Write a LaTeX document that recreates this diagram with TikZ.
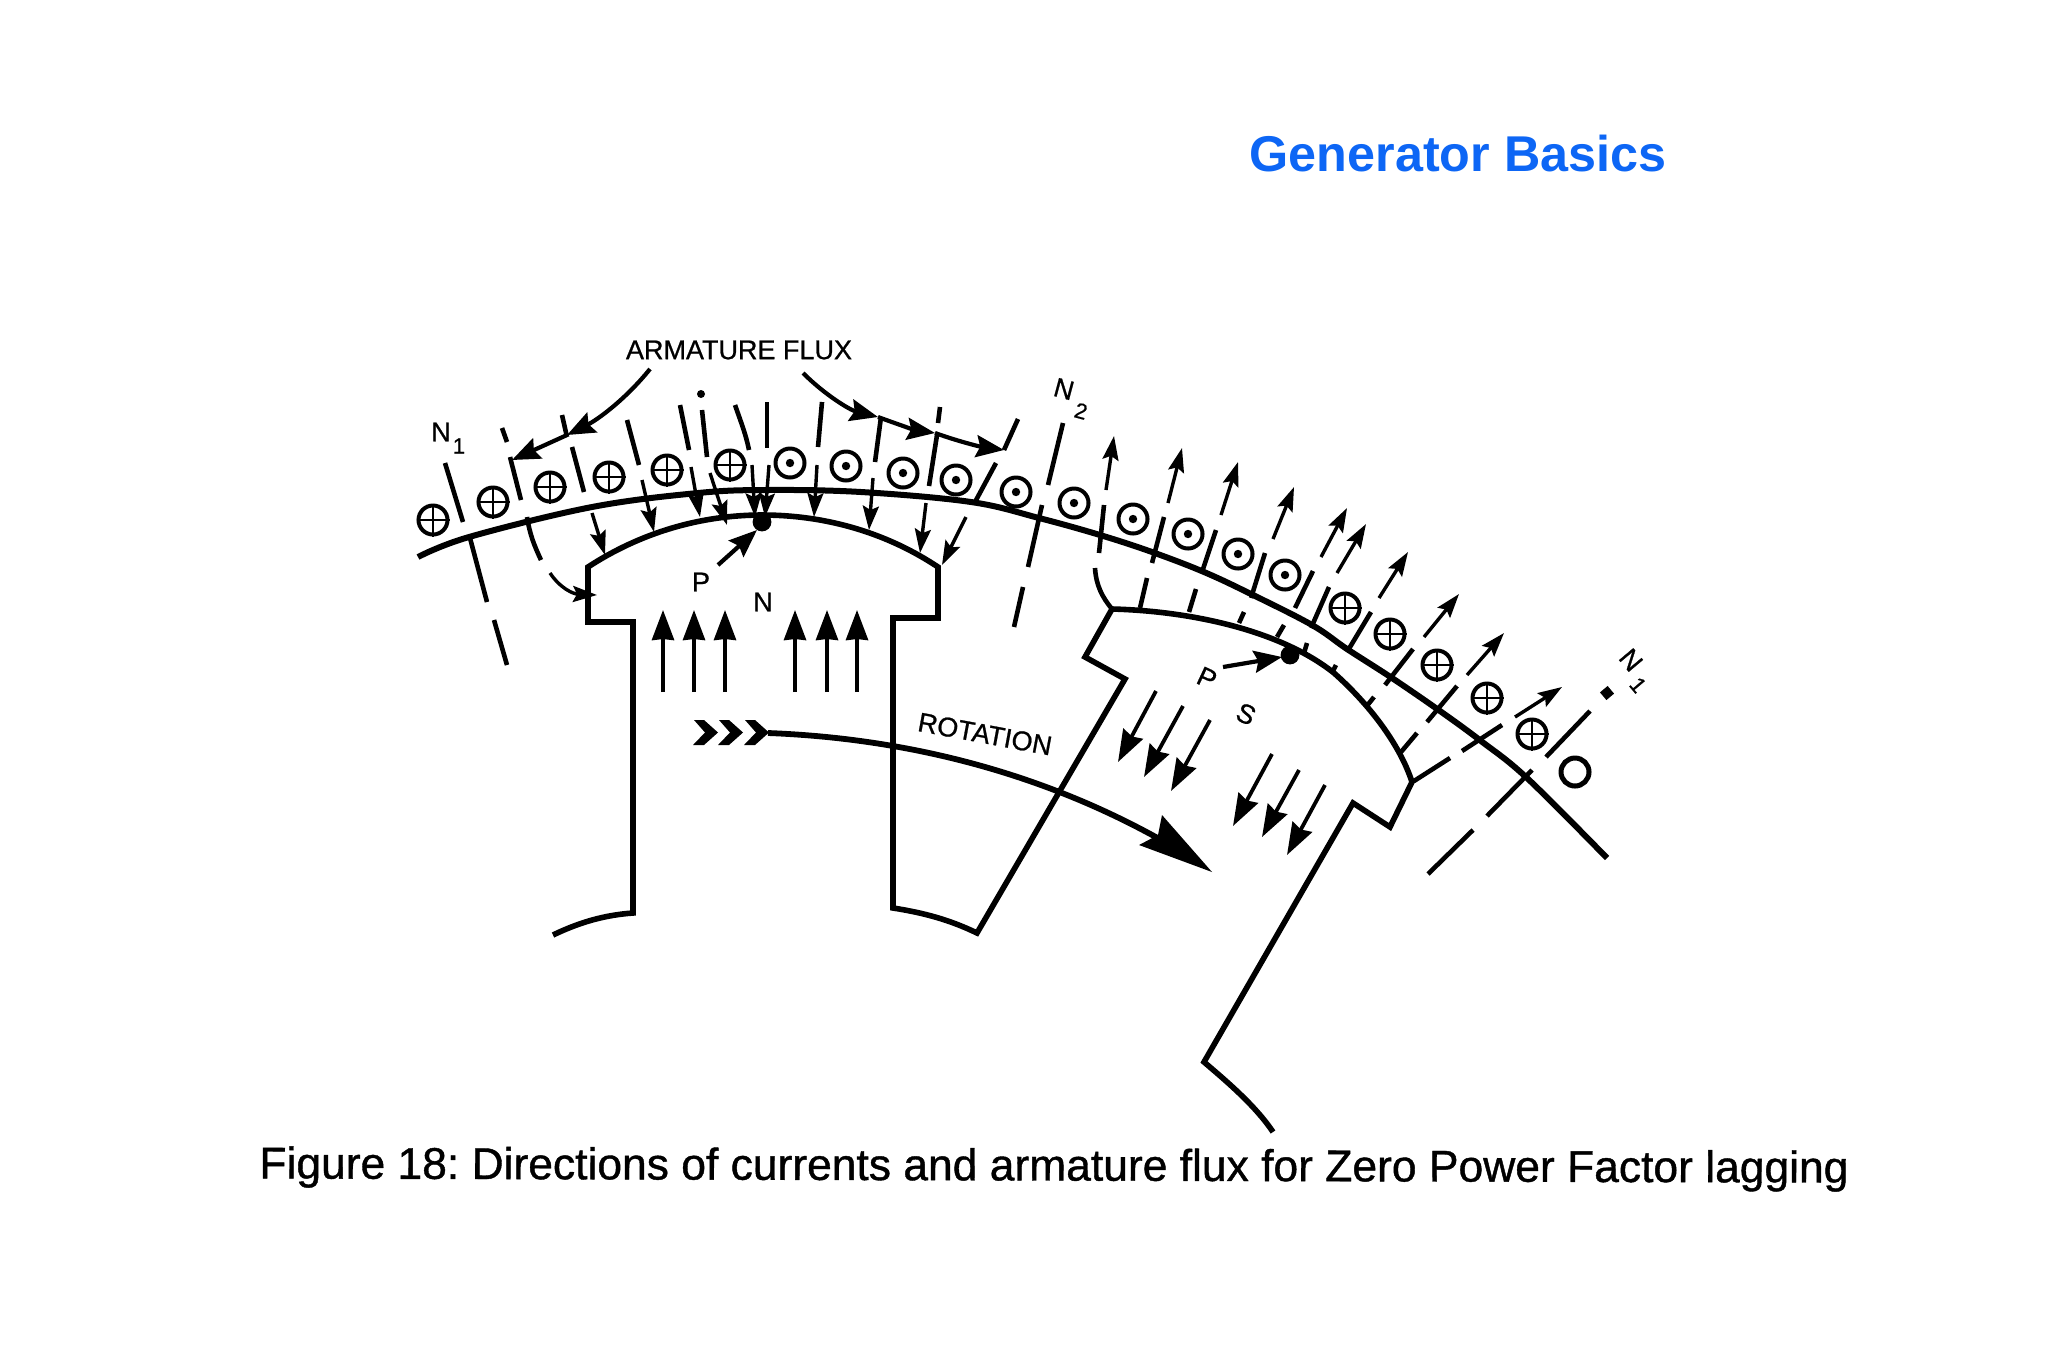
\documentclass[tikz,border=0pt]{standalone}
\usepackage{fontspec}
\setmainfont{Liberation Sans}
\newfontfamily\heavyfont[FakeBold=0.8]{Liberation Sans}
\newfontfamily\capfont[FakeBold=0.9]{Liberation Sans}
\usetikzlibrary{arrows.meta}
\definecolor{titleblue}{RGB}{13,102,245}
\tikzset{
  stator/.style={line width=3pt},
  rotor/.style={line width=2.8pt,line join=miter},
  slotline/.style={line width=2.3pt},
  fluxarrow/.style={line width=1.7pt,-{Stealth[length=12pt,width=8pt,inset=2pt]}},
  mainarrow/.style={line width=1.9pt,-{Stealth[length=16pt,width=11pt,inset=1.5pt]}},
  polearrow/.style={line width=1.8pt,-{Stealth[length=15pt,width=11pt,inset=0.5pt]}},
  armarrow/.style={line width=2.1pt,-{Stealth[length=14pt,width=11pt,inset=2pt]}},
  lab/.style={inner sep=0pt,font=\heavyfont\fontsize{13.5}{14}\selectfont},
  sublab/.style={inner sep=0pt,font=\heavyfont\fontsize{11}{12}\selectfont},
  coil/.style={circle,draw,line width=2pt,minimum size=14.5pt,inner sep=0pt},
}
\newcommand{\crosscoil}[2]{\node[coil] (c#1) at (#2) {};
  \draw[line width=1.3pt] (c#1.north) -- (c#1.south) (c#1.west) -- (c#1.east);}
\newcommand{\dotcoil}[2]{\node[coil] (c#1) at (#2) {};
  \fill (c#1.center) circle (2.1pt);}
\begin{document}
\begin{tikzpicture}[x=0.5pt,y=-0.5pt]
\useasboundingbox (0,0) rectangle (2048,1366);
\fill[white] (0,0) rectangle (2048,1366);
% stator bore
\draw[stator] plot[smooth,tension=0.6] coordinates {(418,557)(469,537)(592,507)(698,493)(767,490)(861,492)(971,502)(1039,518)(1100,535)(1152,552)(1204,572)(1251,594)(1312,625)(1347,649)(1392,678)(1440,711)(1481,741)(1527,778)(1607,858)};
% rotor outline
\draw[rotor] (553,935) .. controls (580,922) and (605,915) .. (633,913) -- (633,622) -- (588,622) -- (588,567)
  .. controls (640,533) and (700,515) .. (762,515) .. controls (830,515) and (890,535) .. (938,567)
  -- (938,618) -- (893,618) -- (893,908) .. controls (925,913) and (950,920) .. (977,933) -- (1125,679) -- (1085,657) -- (1112,609)
  .. controls (1190,611) and (1280,630) .. (1334,673) .. controls (1370,705) and (1400,745) .. (1412,782)
  -- (1390,827) -- (1353,803) -- (1204,1062) .. controls (1225,1080) and (1255,1105) .. (1273,1132);
% rotation arrow
\draw[line width=2.9pt] (768,733) .. controls (900,738) and (1040,770) .. (1170,845);
\fill (1212,872) -- (1162,815) -- (1158,835) -- (1139,845) -- cycle;
\foreach \cx in {694,719,745}{
  \fill[shift={(\cx,720)}] (0,0) -- (10,0) -- (24,12.5) -- (10,25) -- (-1,25) -- (11,12.5) -- cycle;
}
% field arrows N pole
\foreach \ax in {663,694,725,795,827,857}{
  \draw[polearrow] (\ax,692) -- (\ax,610);
}
% field arrows S pole
\draw[mainarrow] (1156,691) -- (1118,762);
\draw[mainarrow] (1183,706) -- (1144,777);
\draw[mainarrow] (1210,720) -- (1171,791);
\draw[mainarrow] (1272,754) -- (1233,826);
\draw[mainarrow] (1299,770) -- (1262,837);
\draw[mainarrow] (1325,785) -- (1287,855);
% coils
\crosscoil{a}{433,520}\crosscoil{b}{493,502}\crosscoil{c}{550,487}\crosscoil{d}{609,477}\crosscoil{e}{667,470}\crosscoil{f}{730,465}
\dotcoil{g}{790,463}\dotcoil{h}{846,466}\dotcoil{i}{903,473}\dotcoil{j}{956,480}\dotcoil{k}{1016,492}\dotcoil{l}{1074,503}
\dotcoil{m}{1133,519}\dotcoil{n}{1188,534}\dotcoil{o}{1238,554}\dotcoil{p}{1285,575}
\crosscoil{q}{1345,608}\crosscoil{r}{1390,634}\crosscoil{s}{1437,665}\crosscoil{t}{1487,698}\crosscoil{u}{1532,734}
\node[coil,line width=2.5pt,minimum size=14pt] (czero) at (1575,772) {};
% slot lines
\foreach \xa/\ya/\xb/\yb in {
 445/463/463/522, 470/538/487/602, 494/620/507/665, 502/428/507/442, 510/457/521/500,
 562/415/567/437, 572/447/584/492, 627/420/639/465, 680/405/689/450, 702/410/707/457,
 767/402/767/448, 822/402/818/447, 881/417/875/462,
 940/407/938/423, 937/435/929/486, 1018/419/1004/450, 996/463/975/502,
 1063/423/1048/485, 1042/505/1028/567, 1023/587/1014/627,
 1104/505/1099/553, 1164/517/1152/563, 1147/578/1140/608, 1216/530/1202/572, 1196/589/1189/612,
 1265/553/1251/598, 1244/612/1239/623, 1313/571/1295/608, 1284/625/1277/637,
 1329/587/1311/628, 1307/643/1304/653, 1371/612/1347/652, 1336/665/1332/673,
 1413/649/1385/685, 1374/697/1366/707, 1457/686/1427/722, 1417/733/1401/752,
 1502/725/1462/751, 1450/758/1414/781, 1590/711/1546/757, 1532/770/1487/816, 1473/830/1428/874}{
  \draw[slotline] (\xa,\ya) -- (\xb,\yb);
}
\draw[slotline] (735,405) .. controls (742,425) and (746,435) .. (749,450);
\draw[slotline] (527,517) .. controls (530,535) and (534,545) .. (541,560);
\draw[slotline] (1095,568) .. controls (1096,585) and (1102,597) .. (1112,609);
\draw[fluxarrow] (550,573) .. controls (560,588) and (573,594) .. (597,595);
\fill (701,394) circle (2pt);
\fill[rotate around={40:(1607,693)}] (1602,688) rectangle (1612,698);
% flux arrows on N pole
\foreach \xa/\ya/\xb/\yb in {592/513/605/555, 642/480/654/532, 691/467/700/517, 710/473/727/525,
 752/465/755/517, 769/465/765/517, 817/465/814/517, 873/478/869/530, 926/503/920/553, 966/517/942/565}{
  \draw[fluxarrow] (\xa,\ya) -- (\xb,\yb);
}
% flux arrows above S pole
\foreach \xa/\ya/\xb/\yb in {1106/490/1114/436, 1168/503/1182/448, 1221/515/1238/462, 1273/539/1294/487,
 1321/557/1347/508, 1337/573/1366/524, 1379/598/1408/552, 1424/637/1459/594, 1467/675/1504/633, 1515/717/1562/687}{
  \draw[fluxarrow] (\xa,\ya) -- (\xb,\yb);
}
% P points
\fill (762,522) circle (4.7pt);
\fill (1290,655) circle (4.7pt);
\draw[armarrow] (718,565) -- (757,530);
\draw[armarrow] (1223,667) -- (1282,657);
% armature flux leaders
\draw[armarrow] (650,369) .. controls (625,400) and (597,420) .. (567,435);
\draw[armarrow] (567,435) -- (512,460);
\draw[armarrow] (803,373) .. controls (825,395) and (850,410) .. (878,417);
\draw[armarrow] (878,417) .. controls (897,424) and (915,430) .. (935,433);
\draw[armarrow] (935,433) .. controls (960,442) and (982,447) .. (1004,450);
% labels
\node[lab] (tflux) at (739,350) {ARMATURE FLUX};
\node[lab] (tn1) at (441,432) {N};
\node[sublab] (tn1s) at (459,446) {1};
\node[lab] (tp) at (701,582) {P};
\node[lab] (tn) at (763,602) {N};
\node[lab,rotate=-15] (tn2) at (1064,389) {N};
\node[sublab,rotate=-15] (tn2s) at (1081,411) {2};
\node[lab,rotate=-50] (tn3) at (1631,660) {N};
\node[sublab,rotate=-50] (tn3s) at (1638,685) {1};
\node[lab,rotate=-25] (tp2) at (1207,678) {P};
\node[lab,rotate=-25] (ts) at (1246,714) {S};
\node[lab,rotate=-10.5] (trot) at (985,734) {ROTATION};
\node[inner sep=0pt,font=\fontsize{25.15}{26}\bfseries\selectfont,text=titleblue] (title) at (1458,154) {Generator Basics};
\node[inner sep=0pt,font=\capfont\fontsize{22.2}{23}\selectfont,rotate=-0.15] (cap) at (1054,1169) {\frenchspacing Figure 18: Directions of currents and armature flux for Zero Power Factor lagging};
\end{tikzpicture}
\end{document}
